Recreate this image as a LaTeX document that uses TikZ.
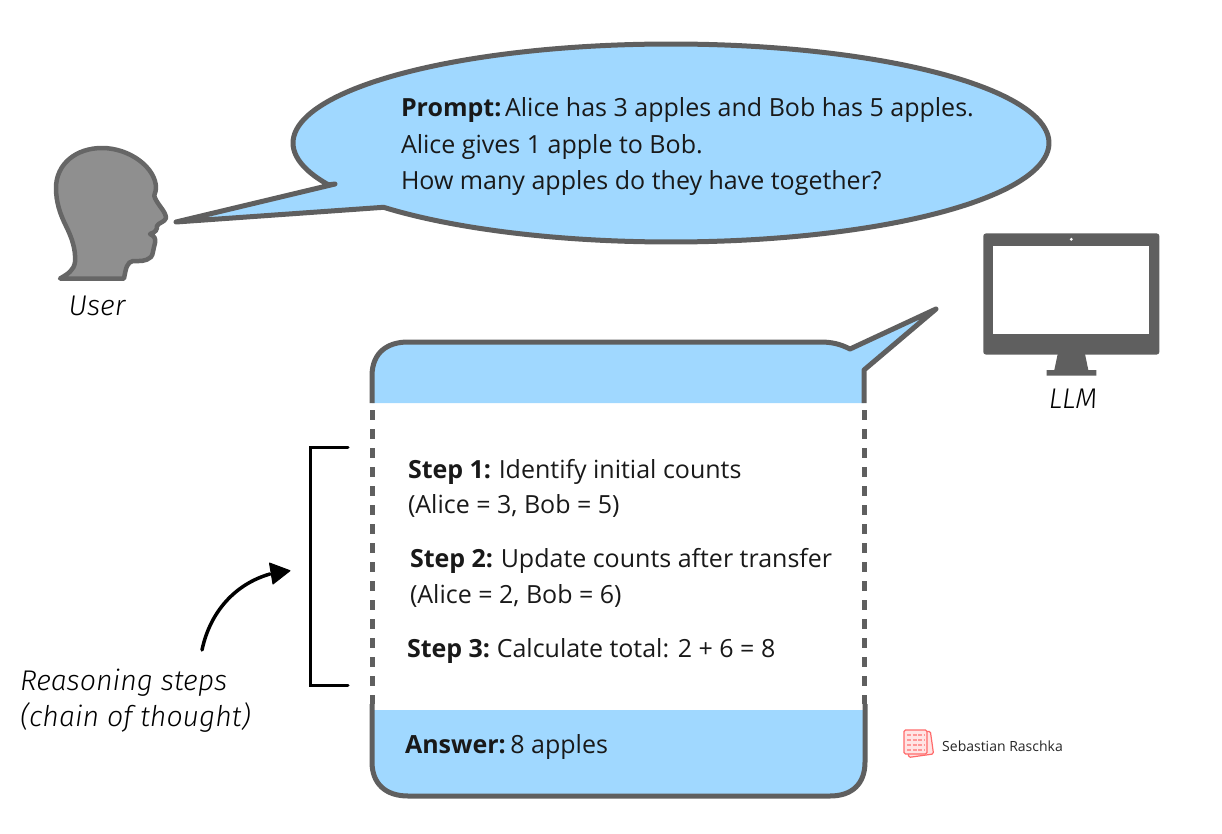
\documentclass[tikz,border=0pt]{standalone}
\usepackage{fontspec}
\setmainfont{Open Sans}
\newfontfamily\handfont{Fira Sans Light Italic}
\definecolor{bubble}{HTML}{A0D8FF}
\definecolor{edge}{HTML}{5F5F5F}
\definecolor{headfill}{HTML}{8F8F8F}
\definecolor{logored}{HTML}{FF6B6B}
\tikzset{
 body/.style={anchor=base west,inner sep=0pt,outer sep=0pt,font=\fontsize{25}{30}\selectfont,text=black!90},
 hand/.style={anchor=base west,inner sep=0pt,outer sep=0pt,font=\handfont\fontsize{28.5}{34}\selectfont,text=black},
 outline/.style={draw=edge,line width=5pt,line join=round},
 bracket/.style={draw=black,line width=3pt,line cap=round},
}
\begin{document}
\begin{tikzpicture}[x=1pt,y=-1pt]
\useasboundingbox (0,0) rectangle (1222,834);
% prompt bubble
\draw[outline,fill=bubble] (176,222) -- (335,184)
  -- plot[domain=155:499.5,samples=180,smooth] ({671+378*cos(\x)},{143+99*sin(\x)}) -- cycle;
\node[body] (p1) at (401,117) {\textbf{Prompt:}\hspace{-5pt} Alice has 3 apples and Bob has 5 apples.};
\node[body] (p2) at (401,153.5) {Alice gives 1 apple to Bob.};
\node[body] (p3) at (401,190) {How many apples do they have together?};
% user head
\draw[draw=black!60,line width=4.5pt,fill=headfill,line join=round]
  (60,278.5) .. controls (68,274) and (74,270) .. (75,262)
  .. controls (76,250) and (72,238) .. (66,226)
  .. controls (60,214) and (56,202) .. (56,188)
  .. controls (56,164) and (76,148) .. (102,148)
  .. controls (130,148) and (156,168) .. (156,188)
  .. controls (156,193) and (153,195) .. (155,198)
  .. controls (158,205) and (166,212) .. (166,218)
  .. controls (165,222) and (158,223) .. (157,226)
  .. controls (157,230) and (156,232) .. (150,234)
  .. controls (154,236) and (156,238) .. (155,243)
  .. controls (153,250) and (153,255) .. (151,257)
  .. controls (146,262) and (138,261) .. (133,261)
  .. controls (127,262) and (126,268) .. (124,278.5) -- cycle;
\node[hand,anchor=base] (user) at (97,315) {User};
% monitor
\fill[edge,rounded corners=2.5pt] (983.3,233.5) rectangle (1159.3,354.5);
\fill[white] (993.3,246) rectangle (1149.3,334.3);
\fill[white] (1071.3,239.3) circle (1.6);
\fill[edge] (1057.7,354) -- (1085,354) -- (1088.3,370) -- (1096.3,370) -- (1096.3,375.7) -- (1046.7,375.7) -- (1046.7,370) -- (1054.3,370) -- cycle;
\node[hand,anchor=base] (llm) at (1073,408) {LLM};
% answer box
\fill[bubble] (372,403) -- (372,376) .. controls (372,352) and (388,342) .. (408,342) -- (820,342)
  .. controls (832,342) and (840,344) .. (850,349) -- (936,309) -- (864,370) -- (864,403) -- cycle;
\fill[bubble] (372,710) -- (372,762) .. controls (372,784) and (386,796) .. (408,796) -- (830,796)
  .. controls (852,796) and (865,784) .. (865,762) -- (865,710) -- cycle;
\draw[outline] (372,403) -- (372,376) .. controls (372,352) and (388,342) .. (408,342) -- (820,342)
  .. controls (832,342) and (840,344) .. (850,349) -- (936,309) -- (864,370) -- (864,403);
\draw[outline] (372,704) -- (372,762) .. controls (372,784) and (386,796) .. (408,796) -- (830,796)
  .. controls (852,796) and (865,784) .. (865,762) -- (865,704);
\draw[draw=edge,line width=5pt,dash pattern=on 10pt off 9pt] (372,410) -- (372,704);
\draw[draw=edge,line width=5pt,dash pattern=on 10pt off 9pt] (864,410) -- (864,704);
% texts
\node[body] (s1a) at (408,478) {\textbf{Step 1:}\hspace{-1pt} Identify initial counts};
\node[body] (s1b) at (408,513) {(Alice = 3, Bob = 5)};
\node[body] (s2a) at (410,567) {\textbf{Step 2:}\hspace{-1pt} Update counts after transfer};
\node[body] (s2b) at (410,603) {(Alice = 2, Bob = 6)};
\node[body] (s3) at (407,657) {\textbf{Step 3:}\hspace{-2pt} Calculate total: 2 + 6 = 8};
\node[body] (ans) at (405,753) {\textbf{Answer:}\hspace{-4pt} 8 apples};
% bracket
\coordinate (bt) at (348,447);
\coordinate (bl1) at (310.7,447);
\coordinate (bl2) at (310.7,685);
\coordinate (bb) at (348,685);
\draw[bracket,line join=miter] (bt) -- (bl1) -- (bl2) -- (bb);
% arrow
\node[hand] (r1) at (20,690) {Reasoning steps};
\node[hand] (r2) at (20,726) {(chain of thought)};
\coordinate (as) at (202,650);
\coordinate (ae) at (270,574);
\draw[draw=black,line width=3.5pt,line cap=round] (as) .. controls (210,612) and (235,584) .. (ae);
\fill[black,line join=round,draw=black,line width=1pt] (290,570.7) -- (269.5,563) -- (273,584) -- cycle;
% logo
\begin{scope}[draw=logored,line width=1.2pt,fill=logored!18,rounded corners=1.5pt]
\filldraw[rotate around={8:(918,744)}] (907,733) rectangle (932,756);
\filldraw (904,730) rectangle (927,754);
\end{scope}
\foreach \yy in {735,740,745,750}{\draw[logored!70,line width=1.3pt,dash pattern=on 4pt off 1.5pt] (907,\yy) -- (925,\yy);}
\node[anchor=base west,inner sep=0pt,font=\fontsize{14}{17}\selectfont,text=black!85] (sig) at (942,751) {Sebastian Raschka};
\end{tikzpicture}
\end{document}
